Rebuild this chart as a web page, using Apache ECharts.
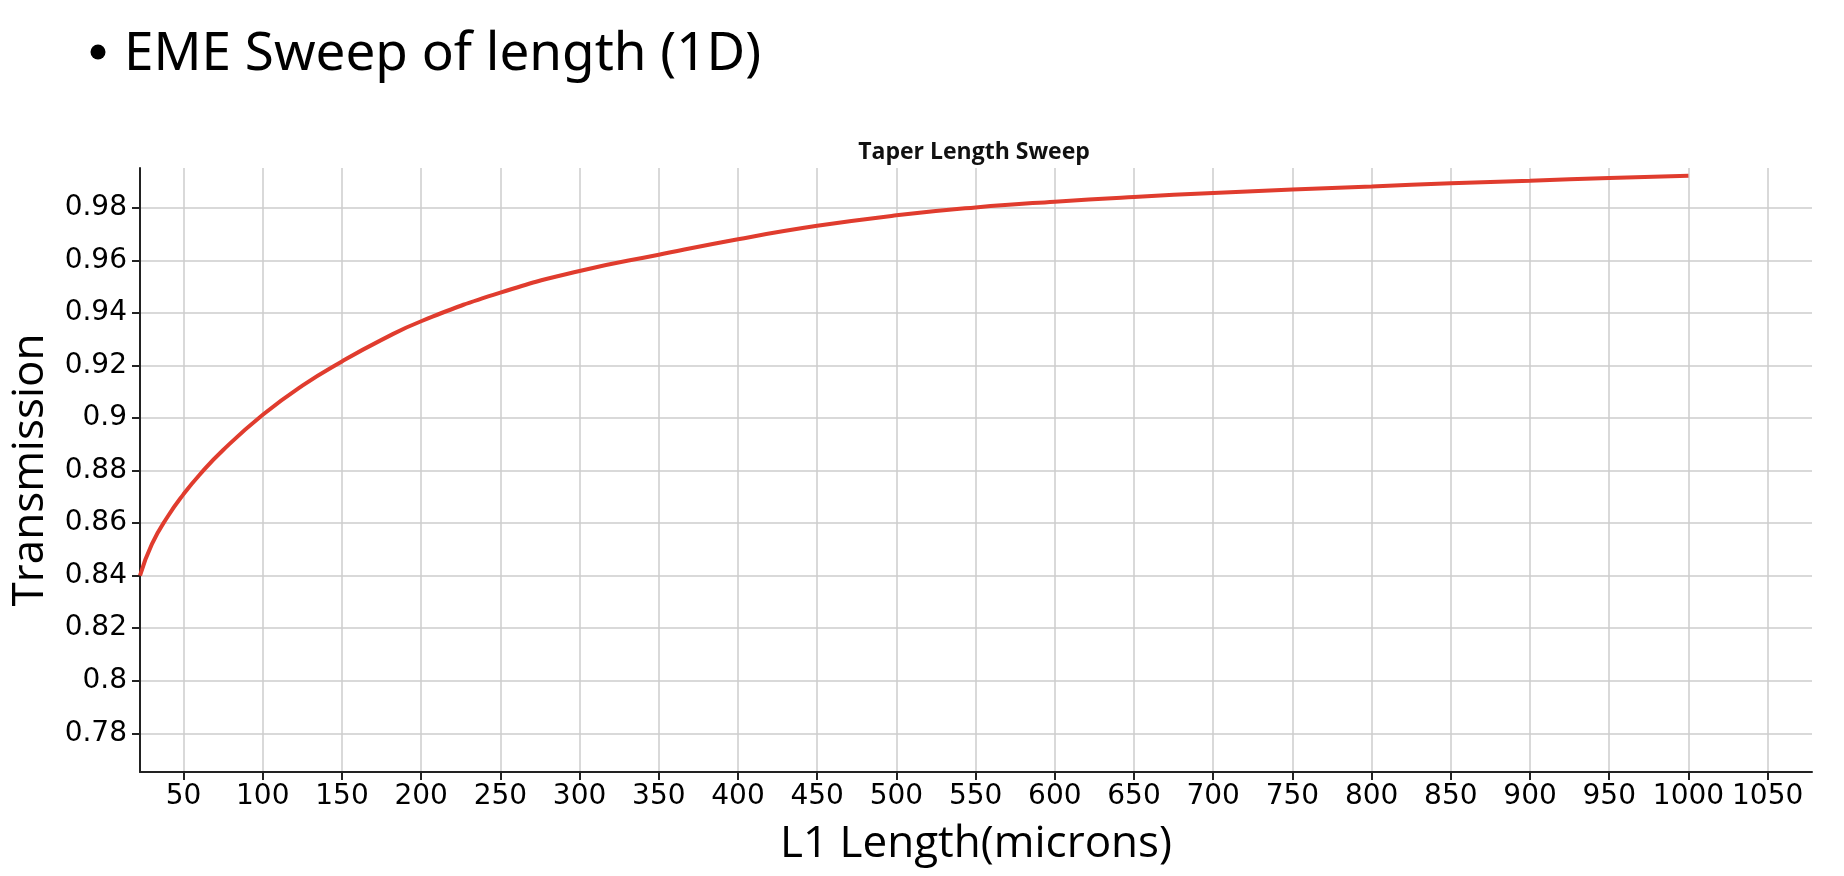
<!DOCTYPE html>
<html>
<head>
<meta charset="utf-8">
<title>Taper Length Sweep</title>
<script src="https://cdn.jsdelivr.net/npm/echarts@6/dist/echarts.min.js"></script>
<style>
  html, body { margin: 0; padding: 0; background: #fff; }
  #main { width: 1844px; height: 876px; }
</style>
</head>
<body>
<div id="main"></div>
<script>
// L1 length (microns) and transmission
var lengths = [22.5, 30, 40, 50, 60, 75, 100, 125, 150, 175, 200, 250, 300, 350, 400, 450, 500, 550, 600, 650, 700, 750, 800, 850, 900, 950, 1000];
var transmission = [0.8400, 0.8520, 0.8625, 0.8710, 0.8783, 0.8878, 0.9012, 0.9123, 0.9215, 0.9297, 0.9368, 0.9477, 0.9559, 0.9621, 0.9680, 0.9731, 0.9771, 0.9801, 0.9823, 0.9841, 0.9856, 0.9869, 0.9881, 0.9893, 0.9903, 0.9913, 0.9922];

var xRange = [22.5, 1078];
var yRange = [0.76527, 0.99511];

var chart = echarts.init(document.getElementById('main'));

var axisFont = 'DejaVu Sans, sans-serif';
var nameFont = 'Open Sans, Noto Sans, sans-serif';

var option = {
    animation: false,
    backgroundColor: '#fff',
    grid: {
        left: 135,
        right: 32,
        top: 168,
        bottom: 104,
        containLabel: false
    },
    graphic: [
        {
            type: 'circle',
            shape: { cx: 98, cy: 52, r: 7.5 },
            style: { fill: '#000' }
        },
        {
            type: 'text',
            x: 124, y: 55,
            style: { text: 'EME Sweep of length (1D)', font: '53px Noto Sans', fill: '#000', align: 'left', verticalAlign: 'middle' }
        },
        {
            type: 'text',
            x: 974, y: 152,
            style: { text: 'Taper Length Sweep', font: 'bold 23px Open Sans', fill: '#111', align: 'center', verticalAlign: 'middle' }
        }
    ],
    xAxis: {
        type: 'value',
        min: xRange[0],
        max: xRange[1],
        splitNumber: 21,
        name: 'L1 Length(microns)',
        nameLocation: 'middle',
        nameGap: 50,
        nameTextStyle: { fontFamily: nameFont, fontSize: 44, color: '#000' },
        axisLine: { lineStyle: { color: '#222', width: 2 } },
        axisTick: { length: 8, lineStyle: { color: '#222', width: 2 } },
        axisLabel: {
            margin: 11,
            fontFamily: axisFont,
            fontSize: 28,
            color: '#000',
            showMinLabel: false,
            showMaxLabel: false,
            formatter: function (v) { return String(v); }
        },
        splitLine: {
            show: true,
            showMinLine: false,
            showMaxLine: false,
            lineStyle: { color: '#cccccc', width: 1.5 }
        }
    },
    yAxis: {
        type: 'value',
        min: yRange[0],
        max: yRange[1],
        splitNumber: 11,
        name: 'Transmission',
        nameLocation: 'middle',
        nameGap: 88,
        nameTextStyle: { fontFamily: nameFont, fontSize: 44, color: '#000' },
        axisLine: { show: true, lineStyle: { color: '#222', width: 2 } },
        axisTick: { show: true, length: 8, lineStyle: { color: '#222', width: 2 } },
        axisLabel: {
            margin: 13,
            fontFamily: axisFont,
            fontSize: 28,
            color: '#000',
            showMinLabel: false,
            showMaxLabel: false,
            formatter: function (v) { return String(+v.toFixed(2)); }
        },
        splitLine: {
            show: true,
            showMinLine: false,
            showMaxLine: false,
            lineStyle: { color: '#cccccc', width: 1.5 }
        }
    },
    series: [{
        type: 'line',
        data: lengths.map(function (x, i) { return [x, transmission[i]]; }),
        smooth: 0.5,
        showSymbol: false,
        lineStyle: { color: '#e03c2e', width: 4 },
        itemStyle: { color: '#e03c2e' }
    }]
};

chart.setOption(option);
</script>
</body>
</html>
